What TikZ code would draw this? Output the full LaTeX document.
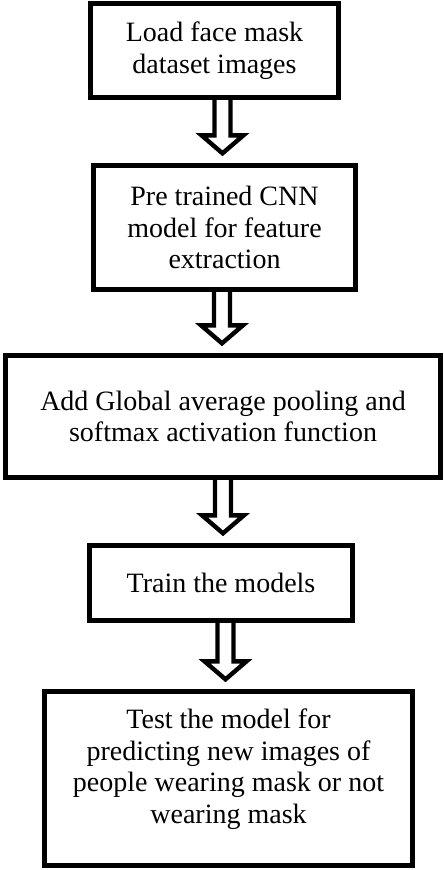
\documentclass[tikz,border=0pt]{standalone}
\usepackage{fontspec}
\setmainfont{Liberation Serif}
\usetikzlibrary{calc}
\tikzset{
  box/.style={draw=black, line width=4.4pt, fill=white, align=center, inner sep=0pt,
              font=\fontsize{28}{31.5}\selectfont},
  blk/.style={draw=black, line width=4.4pt, line join=miter, miter limit=10},
}
\newcommand\blockarrow[3]{%
  \draw[blk] let \p1=(#1.south -| #3), \p2=(#2.north -| #3) in
    (\x1-8pt,\y1+2pt) -- (\x1-8pt,\y2+28pt) -- (\x1-21pt,\y2+28pt) --
    (\x1,\y2+10pt) -- (\x1+21pt,\y2+28pt) -- (\x1+8pt,\y2+28pt) -- (\x1+8pt,\y1+2pt);}
\begin{document}
\begin{tikzpicture}[x=1pt,y=-1pt]
  \useasboundingbox (0,0) rectangle (444,870);
  \node[box, minimum width=248pt, minimum height=94pt] (b1) at (214.5,50.5)
    {Load face mask\\dataset images};
  \node[box, minimum width=262pt, minimum height=124pt] (b2) at (224.5,227.5)
    {Pre trained CNN\\model for feature\\extraction};
  \node[box, minimum width=435pt, minimum height=122pt] (b3) at (223,416.5)
    {Add Global average pooling and\\softmax activation function};
  \node[box, minimum width=263pt, minimum height=75pt] (b4) at (221,583)
    {Train the models};
  \node[box, minimum width=368pt, minimum height=174pt] (b5) at (228.5,778.5)
    {Test the model for\\predicting new images of\\people wearing mask or not\\wearing mask\rule[-25pt]{0pt}{25pt}};
  \coordinate (ax1) at (222.5,0);
  \coordinate (ax2) at (222,0);
  \coordinate (ax3) at (223,0);
  \coordinate (ax4) at (225.5,0);
  \blockarrow{b1}{b2}{ax1}
  \blockarrow{b2}{b3}{ax2}
  \blockarrow{b3}{b4}{ax3}
  \blockarrow{b4}{b5}{ax4}
\end{tikzpicture}
\end{document}
